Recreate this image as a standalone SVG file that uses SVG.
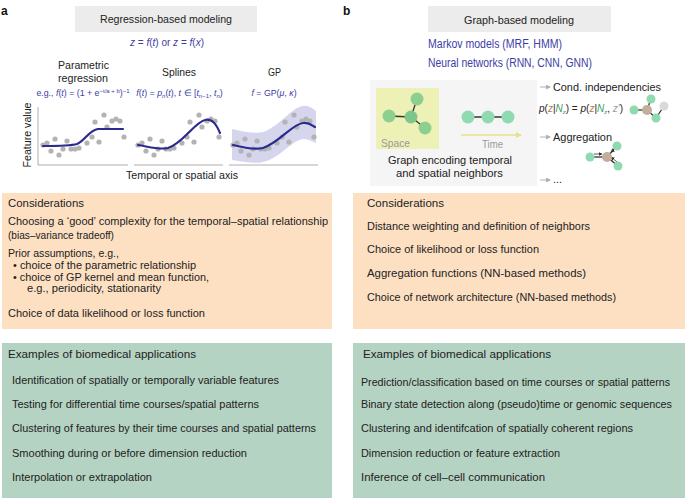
<svg xmlns="http://www.w3.org/2000/svg" width="685" height="498" viewBox="0 0 685 498">
<style>
text{font-family:"Liberation Sans",Arial,sans-serif;fill:#222}
.lbl{font-size:12px;font-weight:bold;fill:#111}
.hd{font-size:11px;text-anchor:middle}
.blue{fill:#3d3da6}
.t10{font-size:10px}
.t11{font-size:11px}
.h11{font-size:11.5px}
.t12{font-size:11px}
.ctr{text-anchor:middle}
.f8{font-size:8.8px;fill:#3d3da6;text-anchor:middle}
.it{font-style:italic}
.pt{fill:#b3b3b3}
.axis{stroke:#9a9a9a;stroke-width:0.8;fill:none}
.curve{stroke:#2b2b8e;stroke-width:2.2;fill:none;stroke-linecap:round}
.edge{stroke:#333;stroke-width:1.3}
.gnode{fill:#8fdab0}
.snode{fill:#8dcf8e}
.bnode{fill:#c2ae9b}
.garr{stroke:#b0b0b0;stroke-width:1}
.gray{fill:#999}
</style>
<defs>
<marker id="gah" markerWidth="5" markerHeight="5" refX="4" refY="2.5" orient="auto" markerUnits="userSpaceOnUse"><path d="M0,0 L5,2.5 L0,5 Z" fill="#b0b0b0"/></marker>
<marker id="yah" markerWidth="6" markerHeight="6" refX="5" refY="3" orient="auto" markerUnits="userSpaceOnUse"><path d="M0,0 L6,3 L0,6 Z" fill="#e4e48a"/></marker>
<marker id="kah" markerWidth="4" markerHeight="4" refX="3.5" refY="2" orient="auto" markerUnits="userSpaceOnUse"><path d="M0,0 L4,2 L0,4 Z" fill="#333"/></marker>
<g id="pts">
<circle class="pt" cx="43" cy="145" r="2.6"/><circle class="pt" cx="47" cy="143" r="2.6"/><circle class="pt" cx="51" cy="151" r="2.6"/><circle class="pt" cx="55" cy="139" r="2.6"/><circle class="pt" cx="59" cy="155" r="2.6"/><circle class="pt" cx="63" cy="149" r="2.6"/><circle class="pt" cx="67" cy="141" r="2.6"/><circle class="pt" cx="71" cy="149" r="2.6"/><circle class="pt" cx="75" cy="149" r="2.6"/><circle class="pt" cx="79" cy="148" r="2.6"/><circle class="pt" cx="87" cy="143" r="2.6"/><circle class="pt" cx="92" cy="137" r="2.6"/><circle class="pt" cx="95" cy="122" r="2.6"/><circle class="pt" cx="99" cy="142" r="2.6"/><circle class="pt" cx="104" cy="115" r="2.6"/><circle class="pt" cx="107" cy="127" r="2.6"/><circle class="pt" cx="112" cy="121" r="2.6"/><circle class="pt" cx="116" cy="119" r="2.6"/><circle class="pt" cx="120" cy="121" r="2.6"/><circle class="pt" cx="124" cy="137" r="2.6"/>
</g>
</defs>
<rect width="685" height="498" fill="#fff"/>

<!-- Panel a -->
<g id="panel-a-header">
<text class="lbl" x="1" y="15">a</text>
<rect x="75" y="6" width="182" height="26" fill="#ececec"/>
<text class="hd" x="166" y="23" textLength="132" lengthAdjust="spacingAndGlyphs">Regression-based modeling</text>
<text class="t10 ctr blue" x="167" y="46" textLength="74" lengthAdjust="spacingAndGlyphs"><tspan class="it">z</tspan> = <tspan class="it">f</tspan>(<tspan class="it">t</tspan>) or <tspan class="it">z</tspan> = <tspan class="it">f</tspan>(<tspan class="it">x</tspan>)</text>
</g>

<g id="plot-parametric">
<text class="t11" x="58" y="69" textLength="51" lengthAdjust="spacingAndGlyphs">Parametric</text>
<text class="t11" x="58" y="82" textLength="50" lengthAdjust="spacingAndGlyphs">regression</text>
<text class="f8" x="83" y="96">e.g., <tspan class="it">f</tspan>(<tspan class="it">t</tspan>) = (1 + e<tspan dy="-3" font-size="6">−t/a + b</tspan><tspan dy="3">)</tspan><tspan dy="-3" font-size="6">−1</tspan></text>
<path class="axis" d="M38,107 V165 H128"/>
<use href="#pts"/>
<path class="curve" d="M43,146 C60,146 70,146 77,144 C85,141 89,130 98,129 L123,129"/>
</g>

<g id="plot-splines">
<text class="t11" x="162" y="76" textLength="34" lengthAdjust="spacingAndGlyphs">Splines</text>
<text class="f8" x="179.5" y="96"><tspan class="it">f</tspan>(<tspan class="it">t</tspan>) = <tspan class="it">p</tspan><tspan dy="2" font-size="6" class="it">n</tspan><tspan dy="-2">(</tspan><tspan class="it">t</tspan>), <tspan class="it">t</tspan> ∈ [<tspan class="it">t</tspan><tspan dy="2" font-size="6">n−1</tspan><tspan dy="-2">, </tspan><tspan class="it">t</tspan><tspan dy="2" font-size="6" class="it">n</tspan><tspan dy="-2">)</tspan></text>
<path class="axis" d="M134,165 H223"/>
<use href="#pts" transform="translate(95,0)"/>
<path class="curve" d="M138,145 C150,147 160,150 168,148 C182,144 195,122 205,120 C213,118 217,126 220,133"/>
</g>

<g id="plot-gp">
<text class="t11" x="268" y="76" textLength="13" lengthAdjust="spacingAndGlyphs">GP</text>
<text class="f8" x="274" y="96"><tspan class="it">f</tspan> = GP(<tspan class="it">μ</tspan>, <tspan class="it">κ</tspan>)</text>
<path d="M232,129 C245,132 255,134 263,132 C279,127 292,107 303,106 C309,105 313,109 316,111 L316,143 C313,142 309,139 303,139 C292,140 279,159 263,162 C255,164 245,162 232,160 Z" fill="#9a9ad6" fill-opacity="0.42"/>
<path class="axis" d="M229,165 H318"/>
<use href="#pts" transform="translate(190,0)"/>
<path class="curve" d="M233,145 C245,148 255,150 263,148 C279,143 292,124 303,123 C309,122 313,126 315,127"/>
</g>

<g id="axis-labels">
<text class="t11 ctr" transform="translate(31,135) rotate(-90)" textLength="65" lengthAdjust="spacingAndGlyphs">Feature value</text>
<text class="t11" x="126" y="179" textLength="112" lengthAdjust="spacingAndGlyphs">Temporal or spatial axis</text>
</g>

<g id="considerations-a">
<rect x="2" y="193" width="330" height="136" fill="#fde0c2"/>
<text class="h11" x="8" y="207" textLength="76" lengthAdjust="spacingAndGlyphs">Considerations</text>
<text class="t11" x="8" y="225" textLength="320" lengthAdjust="spacingAndGlyphs">Choosing a ‘good’ complexity for the temporal–spatial relationship</text>
<text class="t11" x="8" y="239" textLength="106" lengthAdjust="spacingAndGlyphs">(bias–variance tradeoff)</text>
<text class="t11" x="8" y="257" textLength="111" lengthAdjust="spacingAndGlyphs">Prior assumptions, e.g.,</text>
<text class="t11" x="13" y="269" textLength="183" lengthAdjust="spacingAndGlyphs">• choice of the parametric relationship</text>
<text class="t11" x="13" y="281" textLength="196" lengthAdjust="spacingAndGlyphs">• choice of GP kernel and mean function,</text>
<text class="t11" x="27" y="292" textLength="134" lengthAdjust="spacingAndGlyphs">e.g., periodicity, stationarity</text>
<text class="t11" x="8" y="317" textLength="197" lengthAdjust="spacingAndGlyphs">Choice of data likelihood or loss function</text>
</g>

<g id="applications-a">
<rect x="2" y="343" width="330" height="155" fill="#b5d3c3"/>
<text class="h11" x="8" y="358" textLength="188" lengthAdjust="spacingAndGlyphs">Examples of biomedical applications</text>
<text class="t11" x="12" y="384" textLength="267" lengthAdjust="spacingAndGlyphs">Identification of spatially or temporally variable features</text>
<text class="t11" x="12" y="408" textLength="247" lengthAdjust="spacingAndGlyphs">Testing for differential time courses/spatial patterns</text>
<text class="t11" x="12" y="432" textLength="304" lengthAdjust="spacingAndGlyphs">Clustering of features by their time courses and spatial patterns</text>
<text class="t11" x="12" y="457" textLength="235" lengthAdjust="spacingAndGlyphs">Smoothing during or before dimension reduction</text>
<text class="t11" x="12" y="481" textLength="140" lengthAdjust="spacingAndGlyphs">Interpolation or extrapolation</text>
</g>

<!-- Panel b -->
<g id="panel-b-header">
<text class="lbl" x="343" y="15">b</text>
<rect x="428" y="6" width="183" height="26" fill="#ececec"/>
<text class="hd" x="519" y="24" textLength="110" lengthAdjust="spacingAndGlyphs">Graph-based modeling</text>
<text class="blue" font-size="12.5" x="428" y="48" textLength="134" lengthAdjust="spacingAndGlyphs">Markov models (MRF, HMM)</text>
<text class="blue" font-size="12.5" x="428" y="67" textLength="164" lengthAdjust="spacingAndGlyphs">Neural networks (RNN, CNN, GNN)</text>
</g>

<g id="graph-encoding">
<rect x="370" y="80" width="167" height="106" fill="#f5f5f5"/>
<rect x="376" y="88" width="63" height="61" fill="#eef1b6"/>
<line class="edge" x1="389" y1="116" x2="411" y2="117"/>
<line class="edge" x1="411" y1="117" x2="417" y2="99"/>
<line class="edge" x1="411" y1="117" x2="425" y2="128"/>
<circle class="snode" cx="417" cy="99" r="6.5"/>
<circle class="snode" cx="389" cy="116" r="6.5"/>
<circle cx="411" cy="117" r="6.5" fill="#7fc68a"/>
<circle class="snode" cx="425" cy="128" r="6.5"/>
<text class="t11 gray" x="381" y="147" textLength="29" lengthAdjust="spacingAndGlyphs">Space</text>
<line class="edge" x1="468" y1="117" x2="508" y2="117"/>
<circle class="gnode" cx="468" cy="117" r="6.5"/>
<circle class="gnode" cx="488" cy="117" r="6.5"/>
<circle class="gnode" cx="508" cy="117" r="6.5"/>
<line x1="461" y1="135" x2="521" y2="135" stroke="#e4e48a" stroke-width="1.5" marker-end="url(#yah)"/>
<text class="t11 gray" x="482" y="148" textLength="21" lengthAdjust="spacingAndGlyphs">Time</text>
<text class="t11" x="388" y="164" textLength="124" lengthAdjust="spacingAndGlyphs">Graph encoding temporal</text>
<text class="t11" x="396" y="177" textLength="107" lengthAdjust="spacingAndGlyphs">and spatial neighbors</text>
</g>

<g id="cond-independencies">
<line class="garr" x1="540" y1="87" x2="550" y2="87" marker-end="url(#gah)"/>
<text class="t11" x="553" y="91" textLength="108" lengthAdjust="spacingAndGlyphs">Cond. independencies</text>
<text class="t10" x="539" y="112"><tspan class="it">p</tspan>(<tspan class="it" fill="#a87b55">z</tspan>|<tspan class="it" fill="#3f9a5c">N</tspan><tspan class="it" fill="#3f9a5c" font-size="6" dy="2">z</tspan><tspan dy="-2">) = </tspan><tspan class="it">p</tspan>(<tspan class="it" fill="#a87b55">z</tspan>|<tspan class="it" fill="#3f9a5c">N</tspan><tspan class="it" fill="#3f9a5c" font-size="6" dy="2">z</tspan><tspan dy="-2">, </tspan><tspan class="it" fill="#999">z′</tspan>)</text>
<line class="edge" x1="634" y1="110" x2="647" y2="110"/>
<line class="edge" x1="647" y1="110" x2="651" y2="99"/>
<line class="edge" x1="647" y1="110" x2="656" y2="118"/>
<line class="edge" x1="656" y1="118" x2="664" y2="106"/>
<circle class="gnode" cx="634" cy="110" r="4.5"/>
<circle class="gnode" cx="651" cy="99" r="4.5"/>
<circle class="gnode" cx="656" cy="118" r="4.5"/>
<circle cx="664" cy="106" r="4.5" fill="#d9d9d9"/>
<circle class="bnode" cx="647" cy="110" r="5"/>
</g>

<g id="aggregation">
<line class="garr" x1="540" y1="137" x2="550" y2="137" marker-end="url(#gah)"/>
<text class="t11" x="553" y="141" textLength="59" lengthAdjust="spacingAndGlyphs">Aggregation</text>
<line class="edge" x1="590" y1="157" x2="607" y2="157"/>
<line class="edge" x1="607" y1="157" x2="617" y2="146"/>
<line class="edge" x1="607" y1="157" x2="618" y2="166"/>
<line x1="594" y1="154" x2="602" y2="154" stroke="#333" stroke-width="0.8" marker-end="url(#kah)"/>
<line x1="616" y1="148" x2="611" y2="152" stroke="#333" stroke-width="0.8" marker-end="url(#kah)"/>
<line x1="617" y1="162" x2="611" y2="157" stroke="#333" stroke-width="0.8" marker-end="url(#kah)"/>
<circle class="gnode" cx="590" cy="157" r="4.5"/>
<circle class="gnode" cx="617" cy="146" r="4.5"/>
<circle class="gnode" cx="618" cy="166" r="4.5"/>
<circle class="bnode" cx="607" cy="157" r="5"/>
</g>

<g id="ellipsis">
<line class="garr" x1="540" y1="180" x2="550" y2="180" marker-end="url(#gah)"/>
<text class="t11" x="553" y="183">...</text>
</g>

<g id="considerations-b">
<rect x="353" y="193" width="332" height="136" fill="#fde0c2"/>
<text class="h11" x="367" y="207" textLength="77" lengthAdjust="spacingAndGlyphs">Considerations</text>
<text class="t12" x="367" y="230" textLength="223" lengthAdjust="spacingAndGlyphs">Distance weighting and definition of neighbors</text>
<text class="t12" x="367" y="253" textLength="172" lengthAdjust="spacingAndGlyphs">Choice of likelihood or loss function</text>
<text class="t12" x="367" y="277" textLength="219" lengthAdjust="spacingAndGlyphs">Aggregation functions (NN-based methods)</text>
<text class="t12" x="367" y="301" textLength="249" lengthAdjust="spacingAndGlyphs">Choice of network architecture (NN-based methods)</text>
</g>

<g id="applications-b">
<rect x="353" y="343" width="332" height="155" fill="#b5d3c3"/>
<text class="h11" x="363" y="358" textLength="188" lengthAdjust="spacingAndGlyphs">Examples of biomedical applications</text>
<text class="t12" x="361" y="386" textLength="309" lengthAdjust="spacingAndGlyphs">Prediction/classification based on time courses or spatial patterns</text>
<text class="t12" x="361" y="408" textLength="311" lengthAdjust="spacingAndGlyphs">Binary state detection along (pseudo)time or genomic sequences</text>
<text class="t12" x="361" y="432" textLength="272" lengthAdjust="spacingAndGlyphs">Clustering and identifcation of spatially coherent regions</text>
<text class="t12" x="361" y="457" textLength="199" lengthAdjust="spacingAndGlyphs">Dimension reduction or feature extraction</text>
<text class="t12" x="361" y="481" textLength="184" lengthAdjust="spacingAndGlyphs">Inference of cell–cell communication</text>
</g>
</svg>
